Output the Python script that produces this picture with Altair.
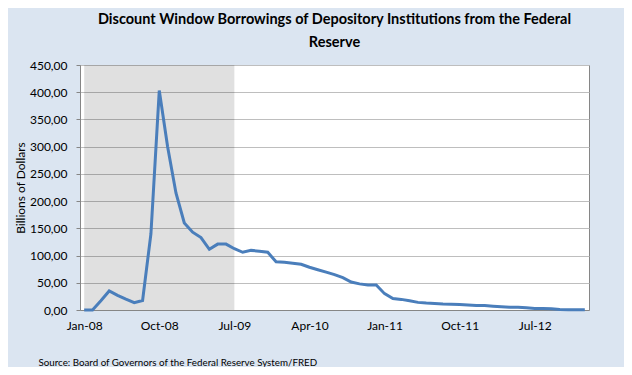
import altair as alt
import pandas as pd

# Monthly values, Jan-2008 .. Jan-2013 (billions of dollars)
months = [d.strftime("%Y-%m") for d in pd.date_range("2008-01-01", "2013-01-01", freq="MS")]
values = [
    0.0, 0.2, 17.0, 35.0, 27.0, 20.0, 13.5, 17.5, 140.0, 403.0, 300.0, 215.0,
    160.0, 143.0, 133.0, 111.5, 121.0, 121.0, 112.5, 106.0, 109.5, 108.0, 106.0, 88.5,
    87.5, 86.0, 84.0, 78.5, 74.0, 69.5, 65.0, 59.5, 51.5, 48.0, 46.0, 46.0,
    30.0, 21.0, 19.5, 17.0, 14.0, 12.8, 12.0, 11.0, 10.5, 10.0, 9.0, 8.3,
    8.3, 7.0, 6.0, 5.2, 5.0, 4.0, 2.8, 2.8, 2.2, 1.0, 0.5, 0.5, 0.5,
]
x_tick_labels = ["Jan-08", "Oct-08", "Jul-09", "Apr-10", "Jan-11", "Oct-11", "Jul-12"]
x_tick_step = 9
y_ticks = [0, 50, 100, 150, 200, 250, 300, 350, 400, 450]
recession_start = "2008-01"
recession_end = "2009-07"

title_lines = ["Discount Window Borrowings of Depository Institutions from the Federal", "Reserve"]
y_title = "Billions of Dollars"
source = "Source: Board of Governors of the Federal Reserve System/FRED"

df = pd.DataFrame({"month": months, "value": values})
df["i"] = range(len(df))
shade = pd.DataFrame({"start": [months.index(recession_start)], "end": [months.index(recession_end)]})

FONT = "Lato"
n = len(months)
label_arr = "[" + ",".join(f"'{s}'" for s in x_tick_labels) + "]"

W, H = 509, 245
PL, PT = 72, 57
TOTAL_W, TOTAL_H = 616, 359

xscale = alt.Scale(domain=[-0.5, n - 0.5], nice=False, zero=False)
yscale = alt.Scale(domain=[0, 450], nice=False)

x_axis = alt.Axis(
    values=[k * x_tick_step for k in range(len(x_tick_labels))],
    labelExpr=f"{label_arr}[round(datum.value/{x_tick_step})]",
    grid=False, ticks=False, domainColor="#868686",
    labelFont=FONT, labelFontSize=12, labelColor="#000000", labelPadding=10,
    title=source, titleFont=FONT, titleFontSize=9.75, titleFontWeight="normal",
    titleColor="#000000", titleX=-42, titleY=52, titleAlign="left", titleBaseline="middle",
)
y_axis = alt.Axis(
    values=y_ticks,
    labelExpr="replace(format(datum.value, '.2f'), '.', ',')",
    grid=True, gridColor="#BEBEBE", gridWidth=1,
    ticks=True, tickSize=4, tickColor="#868686", domainColor="#868686",
    labelFont=FONT, labelFontSize=12, labelColor="#000000", labelPadding=9,
    title=y_title, titleFont=FONT, titleFontSize=12, titleFontWeight="normal",
    titleColor="#000000", titleX=-60, titleY=H / 2, titleAngle=270,
    titleAlign="center", titleBaseline="middle",
)

band = alt.Chart(shade).mark_rect(color="#000000", opacity=0.12).encode(
    x=alt.X("start:Q", scale=xscale, axis=x_axis),
    x2="end:Q",
    y=alt.value(0),
    y2=alt.value(H),
)

line = alt.Chart(df).mark_line(color="#4A7EBB", strokeWidth=3).encode(
    x=alt.X("i:Q", scale=xscale, axis=x_axis),
    y=alt.Y("value:Q", scale=yscale, axis=y_axis),
)

chart = alt.layer(band, line).properties(
    width=W,
    height=H,
    autosize=alt.AutoSizeParams(type="none"),
    padding={"left": PL, "top": PT, "right": TOTAL_W - PL - W, "bottom": TOTAL_H - PT - H},
    background="#DBE5F1",
    title=alt.TitleParams(
        text=title_lines, font=FONT, fontSize=14.5, fontWeight="bold", color="#000000",
        anchor="middle", frame="group", offset=9, lineHeight=23,
    ),
).configure_view(fill="#FFFFFF", stroke="#868686", strokeWidth=1)

chart.save("out.html", embed_options={"renderer": "svg", "actions": False})
